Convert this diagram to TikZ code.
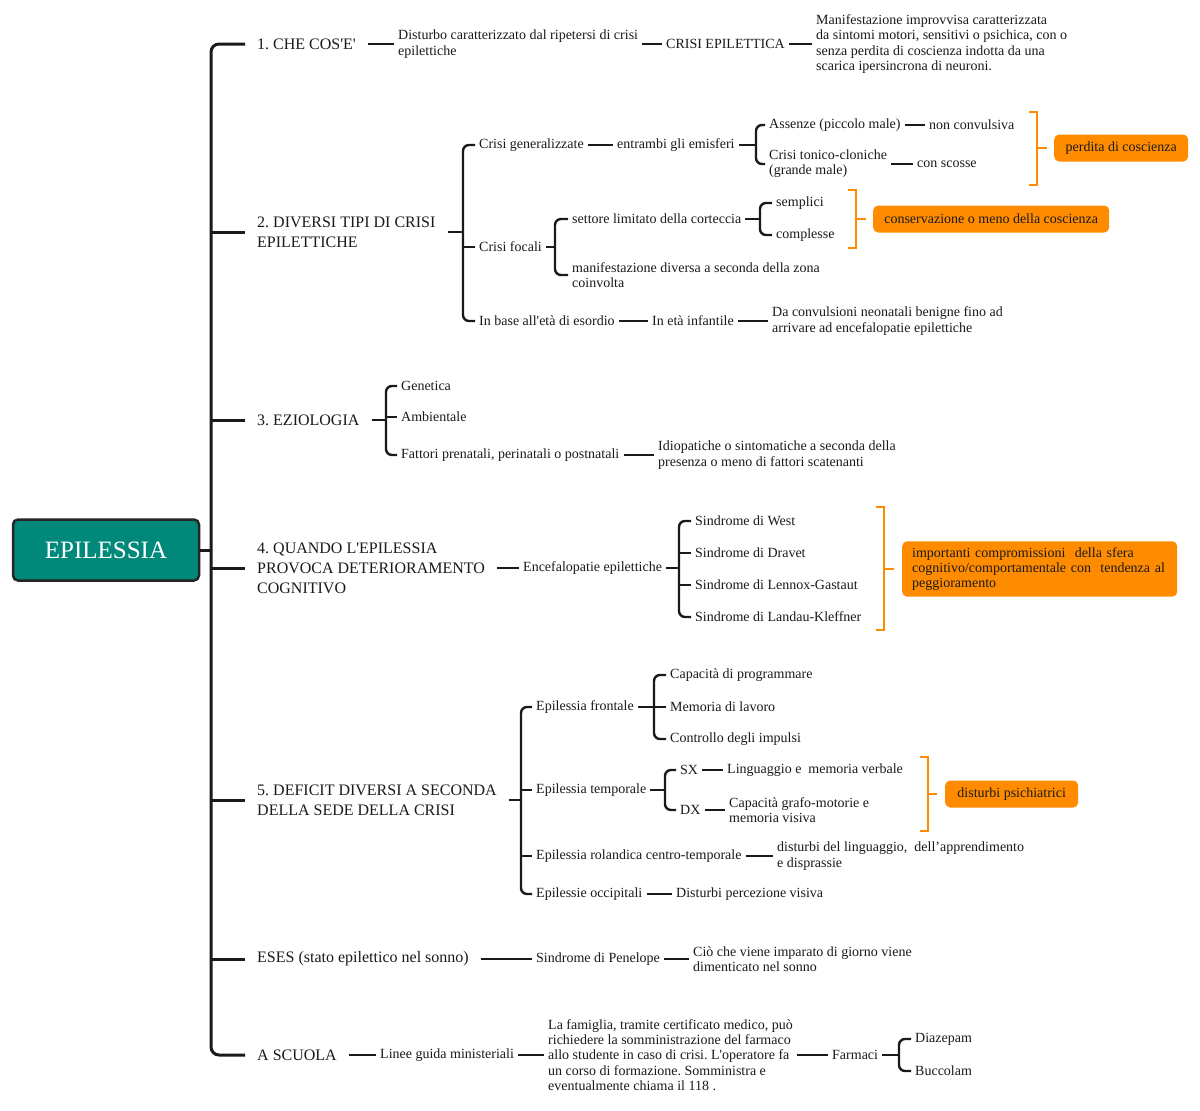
\documentclass[tikz,border=0pt]{standalone}
\usepackage{fontspec}
\setmainfont{Liberation Serif}
\newfontfamily\mapfont{Liberation Serif}
\usepackage{tikz}
\definecolor{rootteal}{RGB}{0,137,122}
\definecolor{calloutorange}{RGB}{255,140,0}
\definecolor{inkdark}{RGB}{26,26,26}
\frenchspacing

\begin{document}
\begin{tikzpicture}[x=1pt, y=-1pt, rootbox/.style={draw=black!85, line width=2.5pt, fill=rootteal, rounded corners=5pt, minimum width=186pt, minimum height=61pt, text=white, font=\mapfont\fontsize{25}{30}\selectfont}, topic/.style={anchor=west, inner xsep=12pt, inner ysep=2pt, align=left, text=inkdark, font=\mapfont\fontsize{16}{20}\selectfont}, leaf/.style={anchor=west, inner xsep=4pt, inner ysep=1pt, align=left, text=inkdark, font=\mapfont\fontsize{14}{15.3}\selectfont}, callout/.style={anchor=west, fill=calloutorange, rounded corners=5pt, inner xsep=10pt, inner ysep=6pt, minimum height=27pt, text=inkdark, font=\mapfont\fontsize{14}{15.3}\selectfont}, link/.style={draw=inkdark, line width=2.4pt}, fork/.style={link, rounded corners=6pt}, trunk/.style={draw=inkdark, line width=3pt, rounded corners=8pt}, span/.style={draw=calloutorange, line width=2pt}]
\path[use as bounding box, fill=white] (0,0) rectangle (1200,1111);
\node[rootbox] (epi) at (106,550) {EPILESSIA};
\coordinate (sp) at (211,0);
% 1
\node[topic] (t1) at (245,44) {1. CHE COS'E'};
\node[leaf] (a1) at (394,44) {Disturbo caratterizzato dal ripetersi di crisi\\epilettiche};
\draw[link] (t1) -- (a1);
\node[leaf] (a2) at (662,44) {CRISI EPILETTICA};
\draw[link] (a1) -- (a2);
\node[leaf] (a3) at (812,44) {Manifestazione improvvisa caratterizzata\\da sintomi motori, sensitivi o psichica, con o\\senza perdita di coscienza indotta da una\\scarica ipersincrona di neuroni.};
\draw[link] (a2) -- (a3);
% 2
\node[topic] (t2) at (245,232) {2. DIVERSI TIPI DI CRISI\\EPILETTICHE};
\node[leaf] (b1) at (475,145) {Crisi generalizzate};
\node[leaf] (b7) at (475,247) {Crisi focali};
\node[leaf] (b12) at (475,321) {In base all'età di esordio};
\coordinate (t2j) at (463,0);
\draw[link] (t2) -- (t2 -| t2j);
\draw[fork] (b1.west) -- (b1.west -| t2j) -- (b12.west -| t2j) -- (b12.west);
\draw[link] (b7.west) -- (b7.west -| t2j);
\node[leaf] (b2) at (613,145) {entrambi gli emisferi};
\draw[link] (b1) -- (b2);
\node[leaf] (b3) at (765,125) {Assenze (piccolo male)};
\node[leaf] (b5) at (765,164) {Crisi tonico-cloniche\\(grande male)};
\coordinate (b2j) at (756,0);
\draw[link] (b2) -- (b2 -| b2j);
\draw[fork] (b3.west) -- (b3.west -| b2j) -- (b5.west -| b2j) -- (b5.west);
\node[leaf] (b4) at (925,125) {non convulsiva};
\draw[link] (b3) -- (b4);
\node[leaf] (b6) at (913,164) {con scosse};
\draw[link] (b5) -- (b6);
\draw[span] (1029,112) -| (1037,185) -- (1029,185);
\coordinate (s1) at (1037,148);
\node[callout, minimum width=134pt] (pc1) at (1054,148) {perdita di coscienza};
\draw[span, shorten >=7pt] (s1) -- (pc1);
\node[leaf] (b8) at (568,219) {settore limitato della corteccia};
\node[leaf] (b11) at (568,275) {manifestazione diversa a seconda della zona\\coinvolta};
\coordinate (b7j) at (555,0);
\draw[link] (b7) -- (b7 -| b7j);
\draw[fork] (b8.west) -- (b8.west -| b7j) -- (b11.west -| b7j) -- (b11.west);
\node[leaf] (b9) at (772,203) {semplici};
\node[leaf] (b10) at (772,235) {complesse};
\coordinate (b8j) at (760,0);
\draw[link] (b8) -- (b8 -| b8j);
\draw[fork] (b9.west) -- (b9.west -| b8j) -- (b10.west -| b8j) -- (b10.west);
\draw[span] (848,190) -| (856,248) -- (848,248);
\coordinate (s2) at (856,219);
\node[callout, minimum width=236pt] (pc2) at (873,219) {conservazione o meno della coscienza};
\draw[span, shorten >=7pt] (s2) -- (pc2);
\node[leaf] (b13) at (648,321) {In età infantile};
\draw[link] (b12) -- (b13);
\node[leaf] (b14) at (768,321) {Da convulsioni neonatali benigne fino ad\\arrivare ad encefalopatie epilettiche};
\draw[link] (b13) -- (b14);
% 3
\node[topic] (t3) at (245,420) {3. EZIOLOGIA};
\node[leaf] (c1) at (397,386) {Genetica};
\node[leaf] (c2) at (397,417) {Ambientale};
\node[leaf] (c3) at (397,455) {Fattori prenatali, perinatali o postnatali};
\coordinate (t3j) at (386,0);
\draw[link] (t3) -- (t3 -| t3j);
\draw[fork] (c1.west) -- (c1.west -| t3j) -- (c3.west -| t3j) -- (c3.west);
\draw[link] (c2.west) -- (c2.west -| t3j);
\node[leaf] (c4) at (654,455) {Idiopatiche o sintomatiche a seconda della\\presenza o meno di fattori scatenanti};
\draw[link] (c3) -- (c4);
% 4
\node[topic] (t4) at (245,568) {4. QUANDO L'EPILESSIA\\PROVOCA DETERIORAMENTO\\COGNITIVO};
\node[leaf] (d1) at (519,568) {Encefalopatie epilettiche};
\draw[link] (t4) -- (d1);
\node[leaf] (d2) at (691,521) {Sindrome di West};
\node[leaf] (d3) at (691,553) {Sindrome di Dravet};
\node[leaf] (d4) at (691,585) {Sindrome di Lennox-Gastaut};
\node[leaf] (d5) at (691,617) {Sindrome di Landau-Kleffner};
\coordinate (d1j) at (679,0);
\draw[link] (d1) -- (d1 -| d1j);
\draw[fork] (d2.west) -- (d2.west -| d1j) -- (d5.west -| d1j) -- (d5.west);
\draw[link] (d3.west) -- (d3.west -| d1j);
\draw[link] (d4.west) -- (d4.west -| d1j);
\draw[span] (876,507) -| (884,630) -- (876,630);
\coordinate (s3) at (884,569);
\node[callout, text width=255pt, align=left] (pc3) at (902,569) {importanti compromissioni~ della sfera\\cognitivo/comportamentale con~ tendenza al\\peggioramento};
\draw[span, shorten >=8pt] (s3) -- (pc3);
% 5
\node[topic] (t5) at (245,800) {5. DEFICIT DIVERSI A SECONDA\\DELLA SEDE DELLA CRISI};
\node[leaf] (e1) at (532,707) {Epilessia frontale};
\node[leaf] (e2) at (532,790) {Epilessia temporale};
\node[leaf] (e3) at (532,856) {Epilessia rolandica centro-temporale};
\node[leaf] (e4) at (532,894) {Epilessie occipitali};
\coordinate (t5j) at (521,0);
\draw[link] (t5) -- (t5 -| t5j);
\draw[fork] (e1.west) -- (e1.west -| t5j) -- (e4.west -| t5j) -- (e4.west);
\draw[link] (e2.west) -- (e2.west -| t5j);
\draw[link] (e3.west) -- (e3.west -| t5j);
\node[leaf] (f1) at (666,675) {Capacità di programmare};
\node[leaf] (f2) at (666,707) {Memoria di lavoro};
\node[leaf] (f3) at (666,739) {Controllo degli impulsi};
\coordinate (e1j) at (654,0);
\draw[link] (e1) -- (e1 -| e1j);
\draw[fork] (f1.west) -- (f1.west -| e1j) -- (f3.west -| e1j) -- (f3.west);
\draw[link] (f2.west) -- (f2.west -| e1j);
\node[leaf] (g1) at (676,770) {SX};
\node[leaf] (g2) at (676,810) {DX};
\coordinate (e2j) at (665,0);
\draw[link] (e2) -- (e2 -| e2j);
\draw[fork] (g1.west) -- (g1.west -| e2j) -- (g2.west -| e2j) -- (g2.west);
\node[leaf] (g3) at (723,770) {Linguaggio e~ memoria verbale};
\draw[link] (g1) -- (g3);
\node[leaf] (g4) at (725,810) {Capacità grafo-motorie e\\memoria visiva};
\draw[link] (g2) -- (g4);
\draw[span] (920,757) -| (928,831) -- (920,831);
\coordinate (s4) at (928,794);
\node[callout, minimum width=133pt] (pc4) at (945,794) {disturbi psichiatrici};
\draw[span, shorten >=8pt] (s4) -- (pc4);
\node[leaf] (e5) at (773,856) {disturbi del linguaggio,~ dell’apprendimento\\e disprassie};
\draw[link] (e3) -- (e5);
\node[leaf] (e6) at (672,894) {Disturbi percezione visiva};
\draw[link] (e4) -- (e6);
% ESES
\node[topic] (t6) at (245,959) {ESES (stato epilettico nel sonno)};
\node[leaf] (h1) at (532,959) {Sindrome di Penelope};
\draw[link] (t6) -- (h1);
\node[leaf] (h2) at (689,959) {Ciò che viene imparato di giorno viene\\dimenticato nel sonno};
\draw[link] (h1) -- (h2);
% scuola
\node[topic] (t7) at (245,1055) {A SCUOLA};
\node[leaf] (k1) at (376,1055) {Linee guida ministeriali};
\draw[link] (t7) -- (k1);
\node[leaf] (k2) at (544,1055) {La famiglia, tramite certificato medico, può\\richiedere la somministrazione del farmaco\\allo studente in caso di crisi. L'operatore fa\\un corso di formazione. Somministra e\\eventualmente chiama il 118 .};
\draw[link] (k1) -- (k2);
\node[leaf] (k3) at (828,1055) {Farmaci};
\draw[link] (k2) -- (k3);
\node[leaf] (k4) at (911,1039) {Diazepam};
\node[leaf] (k5) at (911,1071) {Buccolam};
\coordinate (k3j) at (899,0);
\draw[link] (k3) -- (k3 -| k3j);
\draw[fork] (k4.west) -- (k4.west -| k3j) -- (k5.west -| k3j) -- (k5.west);
% tronco
\draw[trunk] (t1.west) -- (t1.west -| sp) -- (t7.west -| sp) -- (t7.west);
\draw[link, line width=3pt] (epi) -- (epi -| sp);
\draw[link, line width=3pt] (t2.west) -- (t2.west -| sp);
\draw[link, line width=3pt] (t3.west) -- (t3.west -| sp);
\draw[link, line width=3pt] (t4.west) -- (t4.west -| sp);
\draw[link, line width=3pt] (t5.west) -- (t5.west -| sp);
\draw[link, line width=3pt] (t6.west) -- (t6.west -| sp);
\end{tikzpicture}
\end{document}
